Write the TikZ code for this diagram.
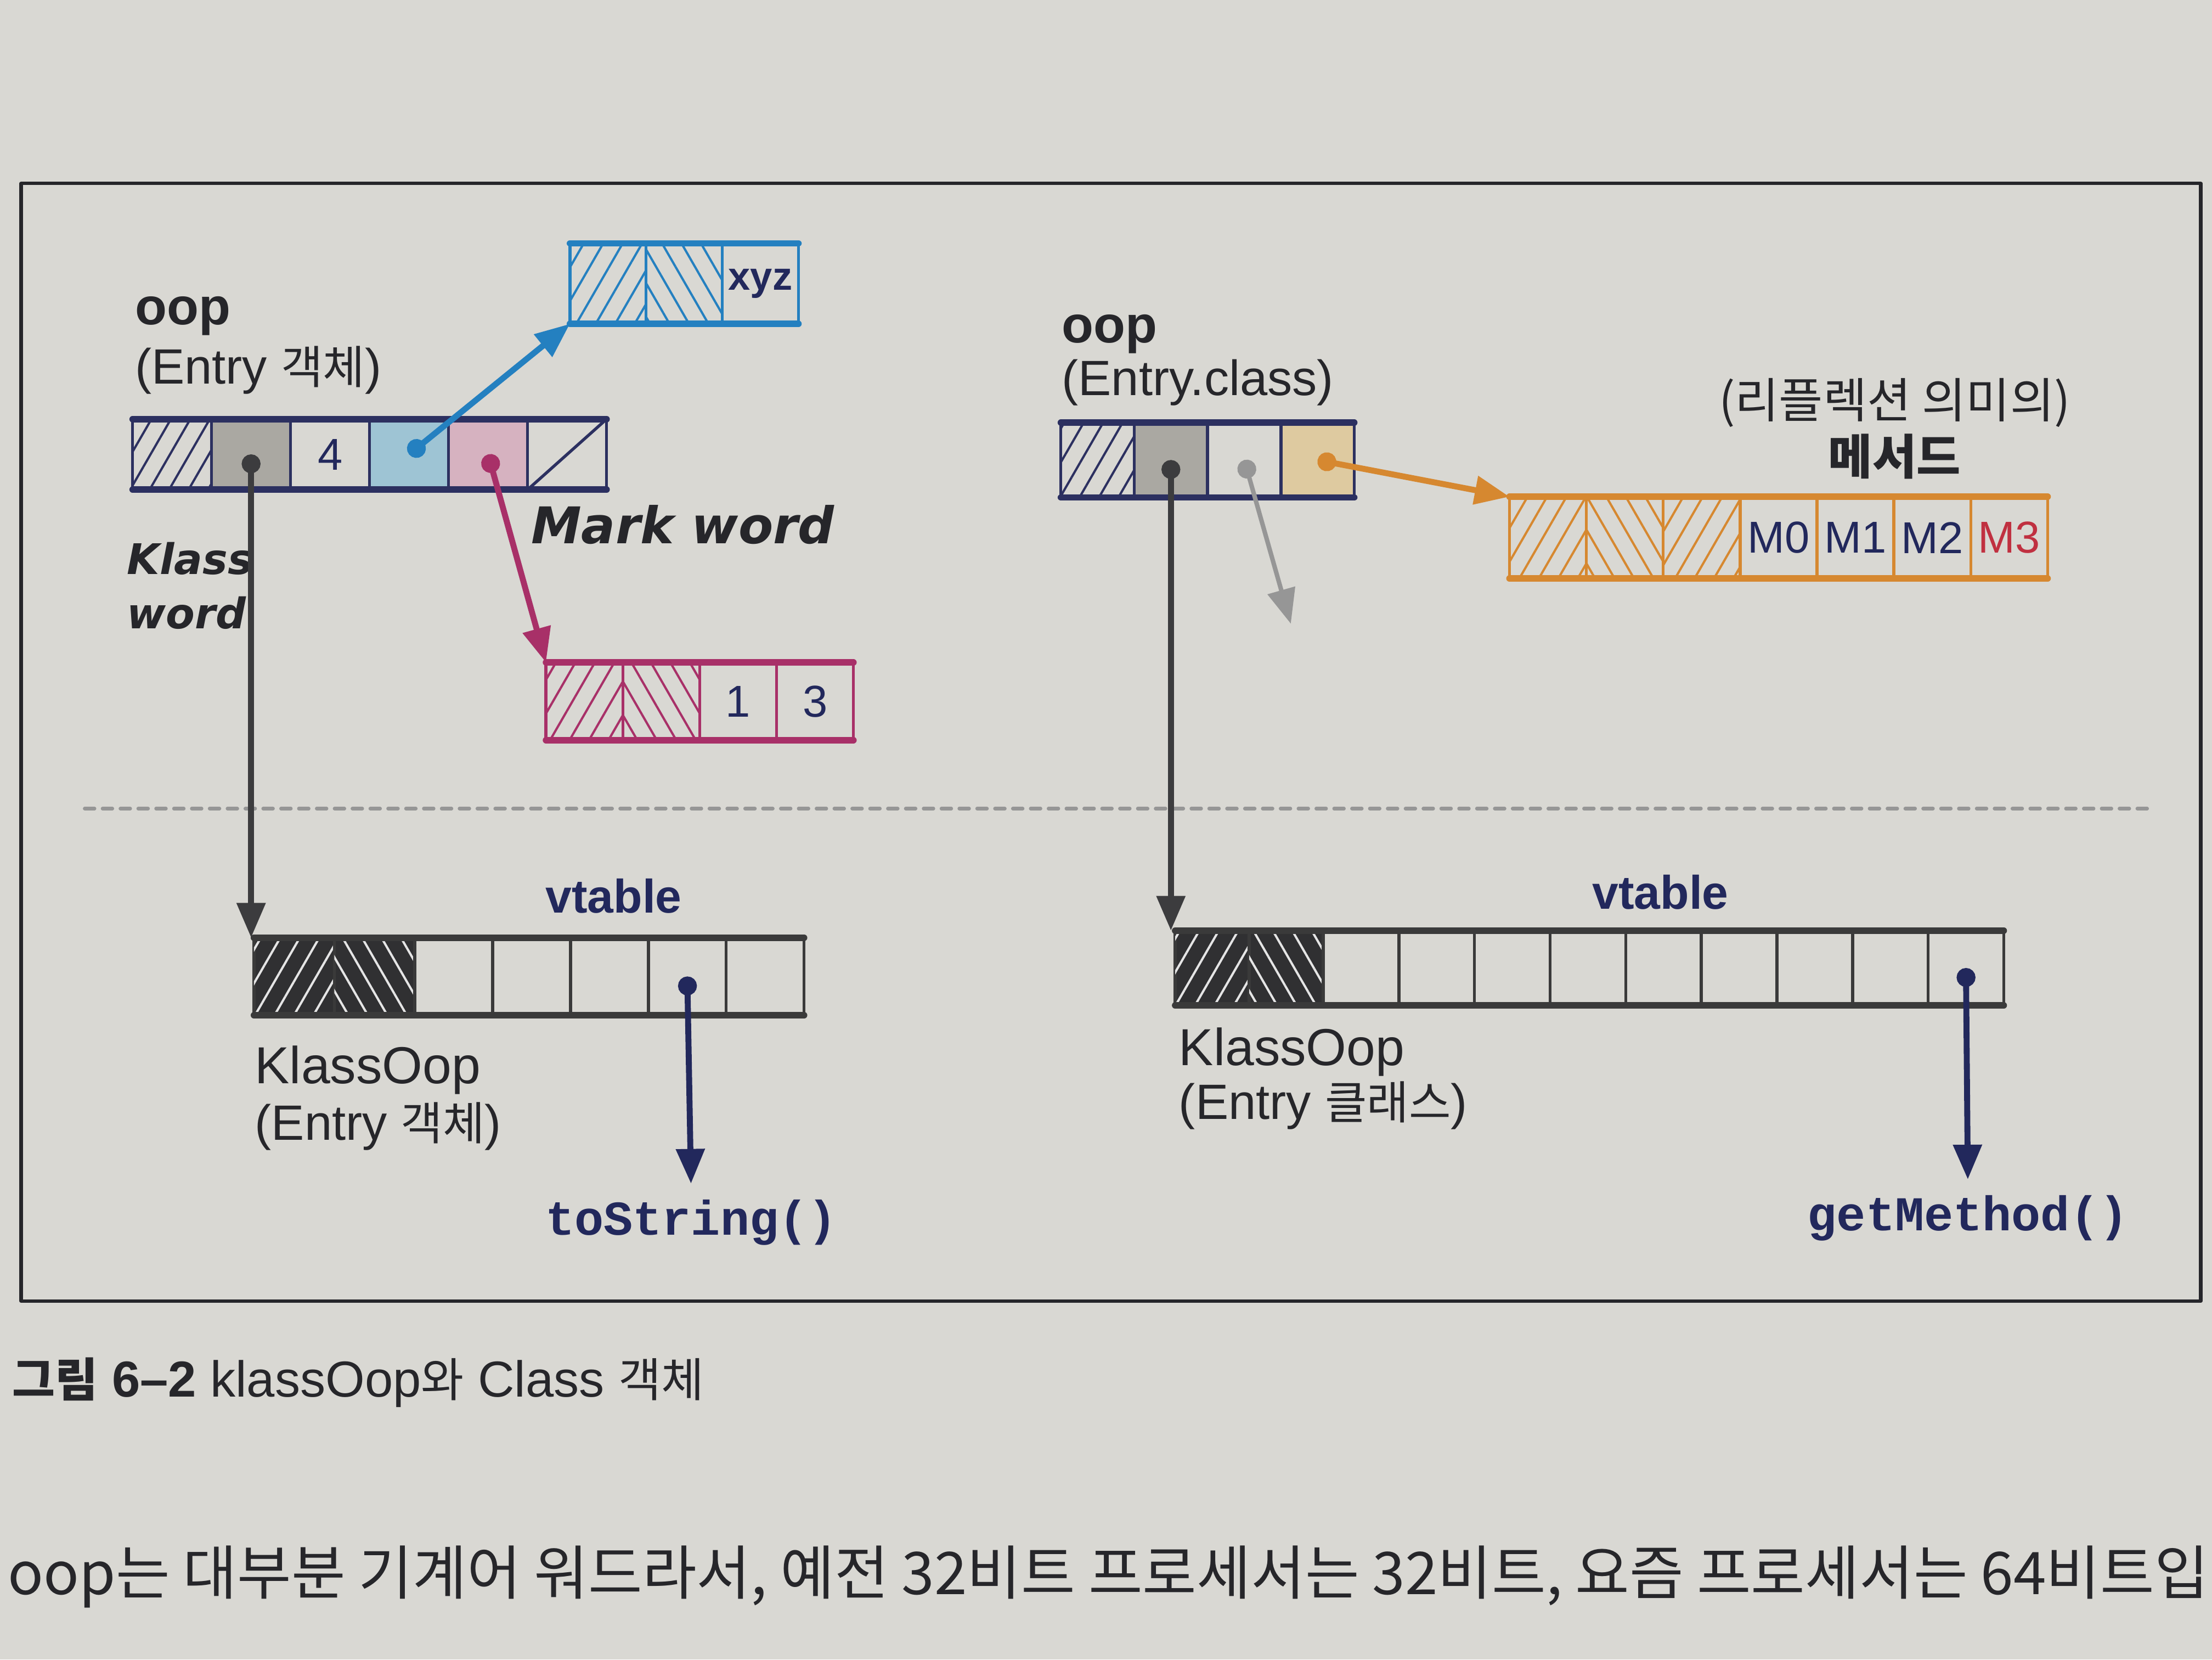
\documentclass[tikz,border=0pt]{standalone}
\usepackage{fontspec}
\setmainfont{Liberation Sans}
\setmonofont{Liberation Mono}
\newfontfamily\krfont{Noto Sans CJK KR}[Scale=0.92]
\newfontfamily\handfont{DejaVu Sans}
\usetikzlibrary{positioning,arrows.meta,patterns.meta}

\definecolor{paper}{RGB}{217,216,211}
\definecolor{boxnavy}{RGB}{44,48,96}
\definecolor{inknavy}{RGB}{34,40,92}
\definecolor{inkblack}{RGB}{38,38,42}
\definecolor{ptrblue}{RGB}{36,128,192}
\definecolor{cellblue}{RGB}{158,196,212}
\definecolor{markred}{RGB}{168,48,104}
\definecolor{cellpink}{RGB}{214,178,192}
\definecolor{methorange}{RGB}{214,136,48}
\definecolor{celltan}{RGB}{222,202,160}
\definecolor{klassgray}{RGB}{170,168,162}
\definecolor{klassdark}{RGB}{60,60,62}
\definecolor{ptrgray}{RGB}{150,150,150}
\definecolor{vtline}{RGB}{58,58,58}
\definecolor{cellblack}{RGB}{48,48,50}
\definecolor{m3red}{RGB}{192,48,64}

\begin{document}
\begin{tikzpicture}[x=0.1mm,y=-0.1mm,line join=round,line cap=round,
	cell/.style={draw=#1,line width=0.6pt,inner sep=0pt,outer sep=0pt},
	hatch/.style 2 args={postaction={pattern={Lines[angle=#1,distance=3.4pt,line width=0.45pt]},pattern color=#2}},
	rim/.style={draw=#1,line width=1.3pt},
	ecell/.style={cell=boxnavy,minimum width=5.6mm,minimum height=5mm},
	xcell/.style={cell=ptrblue,minimum width=5.4mm,minimum height=5.7mm},
	mcell/.style={cell=markred,minimum width=5.45mm,minimum height=5.5mm},
	ccell/.style={cell=boxnavy,minimum width=5.2mm,minimum height=5.3mm},
	rcell/.style={cell=methorange,minimum width=5.45mm,minimum height=5.8mm},
	kcell/.style={cell=vtline,minimum width=5.52mm,minimum height=5.5mm},
	vcell/.style={cell=vtline,minimum width=5.36mm,minimum height=5.3mm},
	dark/.style={fill=cellblack,hatch={#1}{white!80!gray}},
	ptr/.style={draw=#1,line width=1.2pt,{Circle[length=3.8pt]}-{Triangle[length=7pt,width=5.6pt]}},
	num/.style={font=\fontsize{9}{10}\selectfont,text=inknavy},
	lbl/.style={font=\fontsize{10.5}{12}\selectfont,text=inkblack,inner sep=0pt},
	plbl/.style={font=\fontsize{10}{12}\selectfont,text=inkblack,inner sep=0pt},
	blbl/.style={font=\fontsize{10.5}{12}\selectfont\bfseries,text=inkblack,inner sep=0pt},
	vt/.style={font=\fontsize{9.5}{11}\selectfont\bfseries,text=inknavy,inner sep=0pt},
	code/.style={font=\fontsize{9.8}{11}\selectfont\ttfamily\bfseries,text=inknavy,inner sep=0pt},
	hand/.style={font=\fontsize{10.2}{12}\selectfont\handfont\bfseries\itshape,text=inkblack,inner sep=0pt}]
	\useasboundingbox (0,0) rectangle (1568,1176);
	\fill[paper] (0,0) rectangle (1568,1176);
	\draw[line width=0.7pt,inkblack] (15,130) rectangle (1560,922);
	\draw[ptrgray,line width=0.7pt,dash pattern=on 2pt off 1.6pt] (60,573) -- (1525,573);

	\node[blbl,anchor=base west] (oopA) at (95,230) {oop};
	\node[plbl,anchor=base west] (entA) at (95,272) {(Entry {\krfont 객체})};
	\node[ecell,anchor=west,hatch={60}{boxnavy}] (e1) at (94,322) {};
	\node[ecell,right=0pt of e1,fill=klassgray] (e2) {};
	\node[ecell,right=0pt of e2,num] (e3) {4};
	\node[ecell,right=0pt of e3,fill=cellblue] (e4) {};
	\node[ecell,right=0pt of e4,fill=cellpink] (e5) {};
	\node[ecell,right=0pt of e5] (e6) {};
	\draw[boxnavy,line width=0.6pt] (e6.south west) -- (e6.north east);
	\draw[rim=boxnavy] (e1.north west) -- (e6.north east) (e1.south west) -- (e6.south east);

	\node[xcell,anchor=west,hatch={60}{ptrblue}] (x1) at (404,201) {};
	\node[xcell,right=0pt of x1,hatch={120}{ptrblue}] (x2) {};
	\node[xcell,right=0pt of x2,font=\fontsize{8}{9}\selectfont\bfseries,text=inknavy] (x3) {xyz};
	\draw[rim=ptrblue] (x1.north west) -- (x3.north east) (x1.south west) -- (x3.south east);

	\node[mcell,anchor=west,hatch={60}{markred}] (m1) at (387,497) {};
	\node[mcell,right=0pt of m1,hatch={120}{markred}] (m2) {};
	\node[mcell,right=0pt of m2,num] (m3) {1};
	\node[mcell,right=0pt of m3,num] (m4) {3};
	\draw[rim=markred] (m1.north west) -- (m4.north east) (m1.south west) -- (m4.south east);

	\node[hand] (markw) at (484,372) {Mark word};
	\node[hand,font=\fontsize{8.5}{11}\selectfont\handfont\bfseries\itshape,align=left,anchor=east] (klassw) at (180,415) {Klass\\word};

	\node[blbl,anchor=base west] (oopB) at (752,243) {oop};
	\node[plbl,anchor=base west] (entB) at (752,280) {(Entry.class)};
	\node[ccell,anchor=west,hatch={60}{boxnavy}] (c1) at (752,326) {};
	\node[ccell,right=0pt of c1,fill=klassgray] (c2) {};
	\node[ccell,right=0pt of c2] (c3) {};
	\node[ccell,right=0pt of c3,fill=celltan] (c4) {};
	\draw[rim=boxnavy] (c1.north west) -- (c4.north east) (c1.south west) -- (c4.south east);

	\node[lbl,anchor=base] (reflA) at (1343,296) {\krfont (리플렉션 의미의)};
	\node[blbl,anchor=base] (reflB) at (1343,336) {\krfont 메서드};
	\node[rcell,anchor=west,hatch={60}{methorange}] (r1) at (1070,381) {};
	\node[rcell,right=0pt of r1,hatch={120}{methorange}] (r2) {};
	\node[rcell,right=0pt of r2,hatch={60}{methorange}] (r3) {};
	\node[rcell,right=0pt of r3,num] (r4) {M0};
	\node[rcell,right=0pt of r4,num] (r5) {M1};
	\node[rcell,right=0pt of r5,num] (r6) {M2};
	\node[rcell,right=0pt of r6,num,text=m3red] (r7) {M3};
	\draw[rim=methorange] (r1.north west) -- (r7.north east) (r1.south west) -- (r7.south east);

	\node[kcell,minimum width=5.7mm,anchor=west,dark=60] (k1) at (180,692) {};
	\node[kcell,minimum width=5.7mm,right=0pt of k1,dark=120] (k2) {};
	\node[kcell,right=0pt of k2] (k3) {};
	\foreach \i [count=\j from 4] in {3,...,6}
		\node[kcell,right=0pt of k\i] (k\j) {};
	\draw[rim=vtline] (k1.north west) -- (k7.north east) (k1.south west) -- (k7.south east);
	\node[vt,anchor=base] (vtA) at (435,647) {vtable};
	\node[lbl,anchor=base west] (koA) at (180,768) {KlassOop};
	\node[plbl,anchor=base west] (keA) at (180,808) {(Entry {\krfont 객체})};
	\node[code,anchor=base] (tostr) at (490,875) {toString()};

	\node[vcell,minimum width=5.25mm,anchor=west,dark=60] (v1) at (833,686) {};
	\node[vcell,minimum width=5.25mm,right=0pt of v1,dark=120] (v2) {};
	\node[vcell,right=0pt of v2] (v3) {};
	\foreach \i [count=\j from 4] in {3,...,10}
		\node[vcell,right=0pt of v\i] (v\j) {};
	\draw[rim=vtline] (v1.north west) -- (v11.north east) (v1.south west) -- (v11.south east);
	\node[vt,anchor=base] (vtB) at (1177,644) {vtable};
	\node[lbl,anchor=base west] (koB) at (835,755) {KlassOop};
	\node[plbl,anchor=base west] (keB) at (835,793) {(Entry {\krfont 클래스})};
	\node[code,anchor=base] (getm) at (1395,872) {getMethod()};

	\coordinate (lost) at (915,442);
	\draw[ptr=klassdark] (e2.center) -- (e2.center |- k1.north);
	\draw[ptr=ptrblue] (e4.center) -- (x1.south west);
	\draw[ptr=markred] (e5.center) -- (m1.north west);
	\draw[ptr=klassdark] (c2.center) -- (c2.center |- v1.north);
	\draw[ptr=ptrgray,line width=0.9pt] (c3.center) -- (lost);
	\draw[ptr=methorange] (c4.center) -- (r1.north west);
	\draw[ptr=inknavy,shorten >=3pt] (k6.center) -- (tostr.north);
	\draw[ptr=inknavy,shorten >=3pt] (v11.center) -- (getm.north);

	\node[anchor=base west,inner sep=0pt,font=\fontsize{10.2}{12}\selectfont,text=inkblack] (cap) at (8,990) {{\krfont\bfseries 그림} \textbf{6–2} klassOop{\krfont 와} Class {\krfont 객체}};
	\node[anchor=base west,inner sep=0pt,font=\fontsize{12.9}{14}\selectfont\krfont,text=inkblack] (body) at (5,1130) {oop는 대부분 기계어 워드라서, 예전 32비트 프로세서는 32비트, 요즘 프로세서는 64비트입};
\end{tikzpicture}
\end{document}
